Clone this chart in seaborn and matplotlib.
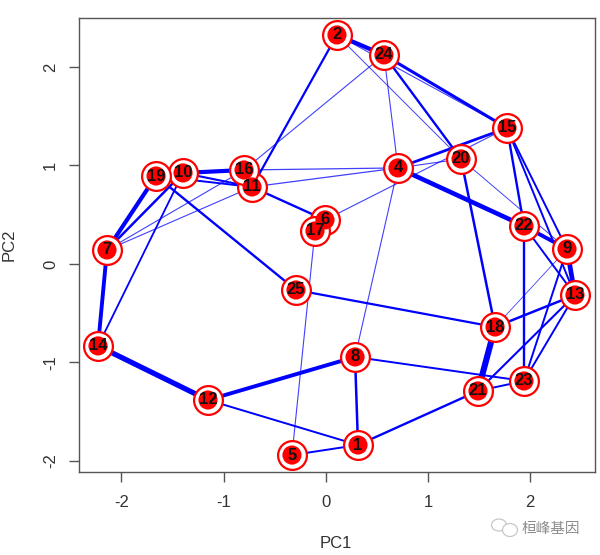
import pandas as pd
import seaborn as sns
import matplotlib
matplotlib.use('Agg')
import matplotlib.pyplot as plt
from matplotlib.patches import Ellipse

# node positions on the PCA plane (there is no node 3 in the picture)
node_ids = [1, 2, 4, 5, 6, 7, 8, 9, 10, 11, 12, 13, 14, 15, 16, 17, 18, 19, 20, 21, 22, 23, 24, 25]
pc1 = [0.316, 0.11, 0.707, -0.33, -0.007, -2.14, 0.287, 2.361, -1.396, -0.721, -1.152, 2.439,
       -2.228, 1.774, -0.799, -0.105, 1.657, -1.66, 1.324, 1.49, 1.94, 1.94, 0.57, -0.291]
pc2 = [-1.838, 2.325, 0.975, -1.94, 0.447, 0.142, -0.944, 0.152, 0.924, 0.782, -1.381, -0.315,
       -0.832, 1.381, 0.954, 0.335, -0.64, 0.893, 1.066, -1.289, 0.386, -1.188, 2.122, -0.264]

# edges: from node, to node, line weight
edge_from = [14, 14, 12, 21, 4, 10, 19, 2, 24, 22, 9,
             2, 10, 19, 10, 19, 19, 16, 14, 11, 25, 12, 5, 8, 8, 1, 21, 21, 18, 23, 23,
             22, 22, 15, 15, 15, 20, 24, 4,
             16, 7, 7, 11, 16, 6, 4, 2, 2, 24, 20, 4, 17, 18]
edge_to = [7, 12, 8, 18, 22, 16, 7, 24, 15, 9, 13,
           11, 7, 10, 11, 11, 25, 11, 10, 6, 18, 1, 1, 1, 23, 21, 23, 13, 13, 13, 9,
           23, 13, 9, 13, 22, 18, 20, 15,
           24, 16, 11, 4, 4, 15, 20, 20, 15, 4, 9, 8, 5, 9]
edge_weight = [2.8, 3.8, 2.8, 4.4, 3.3, 3.0, 3.0, 3.0, 2.2, 2.8, 3.4,
               1.6, 1.8, 1.6, 1.5, 1.4, 1.7, 1.4, 1.3, 1.7, 1.6, 1.4, 1.4, 1.8, 1.4, 1.7, 1.4, 1.5, 1.8, 1.4, 1.4,
               1.7, 1.4, 1.4, 1.4, 1.7, 1.8, 1.7, 2.0,
               0.8, 0.8, 0.8, 0.9, 0.9, 0.8, 0.8, 0.7, 0.8, 0.8, 0.7, 0.8, 0.8, 0.6]

x_ticks = [-2, -1, 0, 1, 2]
y_ticks = [-2, -1, 0, 1, 2]

sns.set_theme(style='white')
plt.rcParams['font.family'] = ['Liberation Sans', 'DejaVu Sans']
plt.rcParams['axes.unicode_minus'] = False

nodes = pd.DataFrame({'id': node_ids, 'PC1': pc1, 'PC2': pc2}).set_index('id')

fig = plt.figure(figsize=(6, 5.55), dpi=100)
W, H = 600, 555
ax = fig.add_axes([79 / W, 1 - 472.3 / H, (595 - 79) / W, (472.3 - 18) / H])

# edges
for a, b, w in zip(edge_from, edge_to, edge_weight):
    seg = nodes.loc[[a, b]]
    sns.lineplot(data=seg, x='PC1', y='PC2', sort=False, estimator=None, color='#0000ff',
                 linewidth=w, alpha=0.75 if w < 1.2 else 1, ax=ax, legend=False, zorder=1)

# outer ring + inner disc
sns.scatterplot(data=nodes, x='PC1', y='PC2', s=430, color='white', edgecolor='#ff0000',
                linewidth=1.6, ax=ax, legend=False, zorder=2)
sns.scatterplot(data=nodes, x='PC1', y='PC2', s=190, color='#ff0000', edgecolor='none',
                ax=ax, legend=False, zorder=3)

for i, row in nodes.iterrows():
    ax.text(row['PC1'], row['PC2'], str(i), ha='center', va='center', fontsize=12,
            fontweight='bold', color='#111111', zorder=4)

ax.set_xlim(-2.414, 2.635)
ax.set_ylim(-2.115, 2.497)
ax.set_xticks(x_ticks)
ax.set_yticks(y_ticks)
ax.tick_params(axis='both', bottom=True, left=True, length=7.2, width=1, color='#555555',
               labelcolor='#333333', labelsize=12)
ax.tick_params(axis='x', pad=9)
ax.tick_params(axis='y', pad=8)
for lab in ax.get_yticklabels():
    lab.set_rotation(90)
    lab.set_va('center')
for s in ax.spines.values():
    s.set_color('#555555')
    s.set_linewidth(1)

ax.set_xlabel('PC1', fontsize=12, color='#333333')
ax.set_ylabel('PC2', fontsize=12, color='#333333')
ax.xaxis.set_label_coords((336 - 79) / (595 - 79), -(536 - 472.3) / (472.3 - 18))
ax.yaxis.set_label_coords(-(79 - 17) / (595 - 79), (472.3 - 245) / (472.3 - 18))

# watermark
fig.text(551 / W, 1 - 529 / H, '桓峰基因', ha='center', va='center', fontsize=10.5, color='#8c8c8c',
         family=['Noto Sans CJK SC', 'DejaVu Sans'])
for cx, cy, ew, eh in [(499, 525, 15, 12), (510, 530, 15, 13)]:
    fig.add_artist(Ellipse((cx / W, 1 - cy / H), ew / W, eh / H, transform=fig.transFigure,
                           facecolor='white', edgecolor='#c8c8c8', linewidth=0.9))

fig.savefig('out.png', dpi=100)
